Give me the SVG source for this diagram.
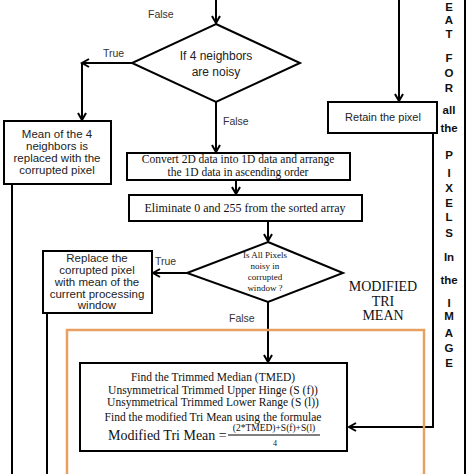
<svg xmlns="http://www.w3.org/2000/svg" width="474" height="474" viewBox="0 0 474 474">
<defs>
<marker id="arr" markerUnits="userSpaceOnUse" markerWidth="12" markerHeight="12" refX="8" refY="5" orient="auto">
<path d="M1,1 L8,5 L1,9" fill="none" stroke="#000" stroke-width="2"/>
</marker>
<style>
.box{fill:#fff;stroke:#000;stroke-width:2}
.ln{fill:none;stroke:#000;stroke-width:2}
.sans{font-family:"Liberation Sans",Arial,sans-serif;fill:#222}
.serif{font-family:"Liberation Serif","Times New Roman",serif;fill:#111}
.lbl{font-family:"Liberation Sans",Arial,sans-serif;font-size:10.5px;fill:#333}
.col{font-family:"Liberation Sans",Arial,sans-serif;font-size:11.5px;font-weight:bold;fill:#111;text-anchor:middle}
.mid{text-anchor:middle}
</style>
</defs>
<rect width="474" height="474" fill="#fff"/>

<g id="connectors">
<line class="ln" x1="216" y1="0" x2="216" y2="23" marker-end="url(#arr)"/>
<line class="ln" x1="399" y1="0" x2="399" y2="101" marker-end="url(#arr)"/>
<polyline class="ln" points="132,63 82,63" marker-end="url(#arr)"/>
<polyline class="ln" points="82,63 82,120" marker-end="url(#arr)"/>
<line class="ln" x1="216" y1="102" x2="216" y2="152" marker-end="url(#arr)"/>
<line class="ln" x1="236" y1="180" x2="236" y2="194" marker-end="url(#arr)"/>
<line class="ln" x1="268" y1="221" x2="268" y2="241" marker-end="url(#arr)"/>
<line class="ln" x1="187" y1="273" x2="153" y2="273" marker-end="url(#arr)"/>
<line class="ln" x1="268" y1="302" x2="268" y2="362" marker-end="url(#arr)"/>
<polyline class="ln" points="433,133 433,427 349,427" marker-end="url(#arr)"/>
<line class="ln" x1="12" y1="184" x2="12" y2="474"/>
<line class="ln" x1="47" y1="313" x2="47" y2="474"/>
<line class="ln" x1="465" y1="0" x2="465" y2="474"/>
<text class="lbl" x="148" y="18">False</text>
<text class="lbl" x="103" y="57">True</text>
<text class="lbl" x="223" y="125">False</text>
<text class="lbl" x="155" y="265">True</text>
<text class="lbl" x="229" y="322">False</text>
</g>

<g id="orange-frame">
<polyline points="67,474 67,330 424,330 424,474" fill="none" stroke="#E8A062" stroke-width="2.5"/>
</g>

<g id="decision1">
<polygon class="box" points="216,24 300,63 216,102 132,63"/>
<text class="sans mid" x="216" y="60" font-size="12">If 4 neighbors</text>
<text class="sans mid" x="216" y="76" font-size="12">are noisy</text>
</g>

<g id="mean4">
<rect class="box" x="4" y="121" width="107" height="63"/>
<text class="sans mid" x="57" y="138" font-size="11.5">Mean of the 4</text>
<text class="sans mid" x="57" y="150" font-size="11.5">neighbors is</text>
<text class="sans mid" x="57" y="162" font-size="11.5">replaced with the</text>
<text class="sans mid" x="57" y="174" font-size="11.5">corrupted pixel</text>
</g>

<g id="retain">
<rect class="box" x="328" y="102" width="109" height="31"/>
<text class="sans mid" x="383" y="121" font-size="11">Retain the pixel</text>
</g>

<g id="convert">
<rect class="box" x="127" y="153" width="223" height="27"/>
<text class="serif mid" x="238" y="163" font-size="11.5">Convert 2D data into 1D data and arrange</text>
<text class="serif mid" x="238" y="176" font-size="11.5">the 1D data in ascending order</text>
</g>

<g id="eliminate">
<rect class="box" x="129" y="195" width="233" height="26"/>
<text class="serif mid" x="245" y="212" font-size="12">Eliminate 0 and 255 from the sorted array</text>
</g>

<g id="decision2">
<polygon class="box" points="268,242 343,273 268,302 187,273"/>
<text class="serif mid" x="265" y="258" font-size="9" fill="#444">Is All  Pixels</text>
<text class="serif mid" x="265" y="269" font-size="9" fill="#444">noisy in</text>
<text class="serif mid" x="265" y="280" font-size="9" fill="#444">corrupted</text>
<text class="serif mid" x="265" y="291" font-size="9" fill="#444">window ?</text>
</g>

<g id="replace">
<rect class="box" x="43" y="251" width="109" height="62"/>
<text class="sans mid" x="97" y="262" font-size="11.5">Replace the</text>
<text class="sans mid" x="97" y="274" font-size="11.5">corrupted pixel</text>
<text class="sans mid" x="97" y="286" font-size="11.5">with mean of the</text>
<text class="sans mid" x="97" y="298" font-size="11.5">current processing</text>
<text class="sans mid" x="97" y="309" font-size="11.5">window</text>
</g>

<g id="title">
<text class="serif mid" x="383" y="291" font-size="14">MODIFIED</text>
<text class="serif mid" x="383" y="306" font-size="14">TRI</text>
<text class="serif mid" x="383" y="320" font-size="14">MEAN</text>
</g>

<g id="trimean">
<rect class="box" x="80" y="363" width="267" height="88"/>
<text class="serif mid" x="213" y="381" font-size="11.5">Find the Trimmed Median (TMED)</text>
<text class="serif mid" x="213" y="394" font-size="11.5">Unsymmetrical Trimmed Upper Hinge (S (f))</text>
<text class="serif mid" x="213" y="406" font-size="11.5">Unsymmetrical Trimmed Lower Range (S (l))</text>
<text class="serif mid" x="213" y="421" font-size="11.5">Find the modified Tri Mean using the formulae</text>
<text class="serif" x="108" y="440" font-size="14">Modified Tri Mean =</text>
<text class="serif mid" x="274" y="431" font-size="9.5">(2*TMED)+S(f)+S(l)</text>
<line x1="228" y1="435" x2="320" y2="435" stroke="#000" stroke-width="1"/>
<text class="serif mid" x="275" y="446" font-size="8">4</text>
</g>

<g id="repeat-column">
<text class="col" x="449" y="11">E</text>
<text class="col" x="449" y="24">A</text>
<text class="col" x="449" y="38">T</text>
<text class="col" x="449" y="62">F</text>
<text class="col" x="449" y="77">O</text>
<text class="col" x="449" y="92">R</text>
<text class="col" x="449" y="114">all</text>
<text class="col" x="449" y="132">the</text>
<text class="col" x="449" y="159">P</text>
<text class="col" x="449" y="177">I</text>
<text class="col" x="449" y="192">X</text>
<text class="col" x="449" y="207">E</text>
<text class="col" x="449" y="221">L</text>
<text class="col" x="449" y="237">S</text>
<text class="col" x="449" y="261">In</text>
<text class="col" x="449" y="284">the</text>
<text class="col" x="449" y="307">I</text>
<text class="col" x="449" y="320">M</text>
<text class="col" x="449" y="337">A</text>
<text class="col" x="449" y="352">G</text>
<text class="col" x="449" y="367">E</text>
</g>
</svg>
